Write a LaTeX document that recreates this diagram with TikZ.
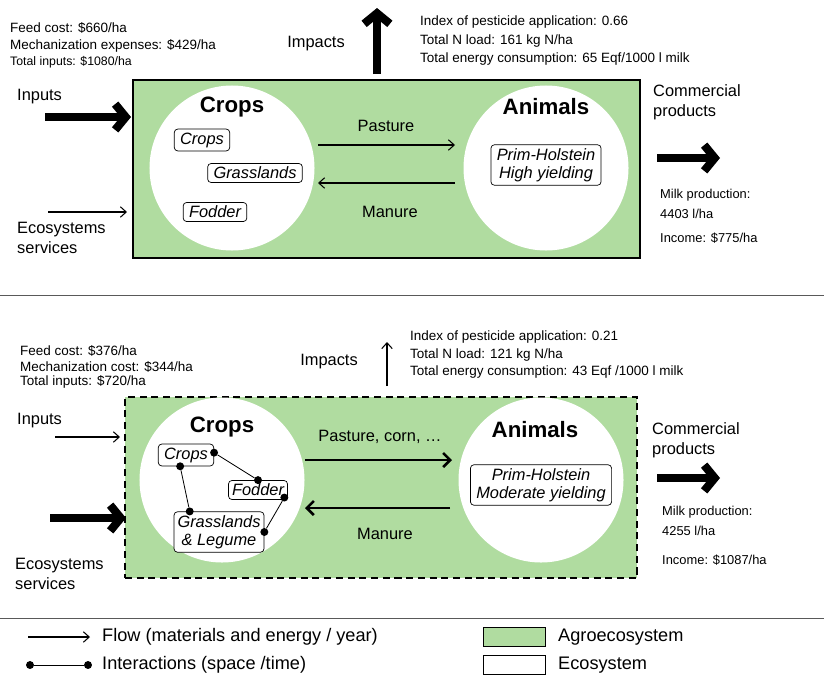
\documentclass[tikz,border=0pt]{standalone}
\usepackage{fontspec}
\setmainfont{Liberation Sans}
\usetikzlibrary{arrows.meta}
\definecolor{agro}{HTML}{B0DCA0}
\begin{document}
\begin{tikzpicture}[x=0.03cm,y=-0.03cm,
  txt/.style={font=\fontsize{14}{17}\selectfont,inner sep=0pt},
  sm/.style={font=\fontsize{11.5}{14}\selectfont,inner sep=0pt,align=left},
  circ/.style={circle,fill=white,minimum size=4.95cm,inner sep=0pt},
  title/.style={font=\fontsize{19}{21}\selectfont\bfseries,inner sep=0pt},
  item/.style={draw,rounded corners=3pt,font=\fontsize{14}{15.5}\selectfont\itshape,inner xsep=5pt,inner ysep=3pt,line width=0.6pt,fill=white,align=center},
  flow/.style={-{Straight Barb[length=5pt,width=9pt]},line width=0.9pt},
  thickflow/.style={-{Straight Barb[length=6pt,width=12pt]},line width=2.2pt},
  big/.style={-{Straight Barb[length=9pt,width=22pt]},line width=7pt},
  inter/.style={line width=0.7pt},
  dot/.style={circle,fill,inner sep=2.4pt}]
\useasboundingbox (0,0) rectangle (824,697);
% ---------- TOP ----------
\node[draw,line width=2.5pt,fill=agro,minimum width=507*0.03cm,minimum height=178*0.03cm,inner sep=0pt] (box1) at (386.5,169) {};
\node[circ] (c1) at (232,168) {};
\node[circ] (a1) at (546,168) {};
\node[title] (t1) at (232,107) {Crops};
\node[title] (t2) at (546,107) {Animals};
\node[item] (n1) at (202,140) {Crops};
\node[item] (n2) at (255,173) {Grasslands};
\node[item] (n3) at (215,212) {Fodder};
\node[item] (n4) at (546,165) {Prim-Holstein\\High yielding};
\coordinate (p1s) at (318,145); \coordinate (p1e) at (455,145);
\draw[flow] (p1s) -- (p1e);
\node[txt] (pl1) at (386,126) {Pasture};
\coordinate (m1s) at (455,183); \coordinate (m1e) at (318,183);
\draw[flow] (m1s) -- (m1e);
\node[txt] (ml1) at (390,212) {Manure};
\node[txt,anchor=west] (in1) at (17,97) {Inputs};
\coordinate (i1s) at (45,117); \coordinate (i1e) at (131,117);
\draw[big] (i1s) -- (i1e);
\node[txt,anchor=north west,align=left] (es1) at (17,222) {Ecosystems\\services};
\coordinate (e1s) at (48,212); \coordinate (e1e) at (127,212);
\draw[flow] (e1s) -- (e1e);
\coordinate (im1s) at (377,74); \coordinate (im1e) at (377,8);
\draw[big] (im1s) -- (im1e);
\node[txt] (imt1) at (316,44) {Impacts};
\node[sm,anchor=west] (ix1) at (420,22) {Index of pesticide application: 0.66};
\node[sm,anchor=west] (ix2) at (420,41) {Total N load: 161 kg N/ha};
\node[sm,anchor=west] (ix3) at (420,59) {Total energy consumption: 65 Eqf/1000 l milk};
\node[sm,anchor=west] (f1) at (10,28) {Feed cost: \$660/ha};
\node[sm,anchor=west] (f2) at (10,46) {Mechanization expenses: \$429/ha};
\node[sm,anchor=west,font=\fontsize{10.5}{12}\selectfont] (f3) at (10,62) {Total inputs: \$1080/ha};
\node[txt,anchor=north west,align=left] (cp1) at (653,84) {Commercial\\products};
\coordinate (o1s) at (657,158); \coordinate (o1e) at (720,158);
\draw[big] (o1s) -- (o1e);
\node[sm,anchor=north west,font=\fontsize{11}{17}\selectfont] (mp1) at (660,189) {Milk production:\\4403 l/ha};
\node[sm,anchor=west,font=\fontsize{11}{14}\selectfont] (inc1) at (660,238) {Income: \$775/ha};
% separator
\coordinate (s1a) at (0,295); \coordinate (s1b) at (824,295);
\draw[line width=0.6pt,gray!70!black] (s1a) -- (s1b);
% ---------- BOTTOM ----------
\node[draw,dashed,dash pattern=on 6pt off 4pt,line width=1pt,fill=agro,minimum width=512*0.03cm,minimum height=181*0.03cm,inner sep=0pt] (box2) at (381,487.5) {};
\node[circ] (c2) at (222,480) {};
\node[circ] (a2) at (541,480) {};
\node[title] (t3) at (222,427) {Crops};
\node[title] (t4) at (535,430) {Animals};
\node[item] (b1) at (186,455) {Crops};
\node[item,inner xsep=3pt] (b2) at (258,490) {Fodder};
\node[item,inner xsep=3pt] (b3) at (219,532) {Grasslands\\\& Legume};
\node[item] (b4) at (541,485) {Prim-Holstein\\Moderate yielding};
\node[dot] (d1) at ([yshift=2pt]b1.east) {}; \node[dot] (d2) at (b2.north) {};
\node[dot] (d3) at ([xshift=-5pt]b1.south) {}; \node[dot] (d4) at ([xshift=-25pt]b3.north) {};
\node[dot] (d5) at ([xshift=-3pt,yshift=2pt]b2.south east) {}; \node[dot] (d6) at (b3.east) {};
\draw[inter] (d1) -- (d2); \draw[inter] (d3) -- (d4); \draw[inter] (d5) -- (d6);
\coordinate (p2s) at (305,460); \coordinate (p2e) at (452,460);
\draw[thickflow] (p2s) -- (p2e);
\node[txt] (pl2) at (380,437) {Pasture, corn, …};
\coordinate (m2s) at (450,508); \coordinate (m2e) at (305,508);
\draw[thickflow] (m2s) -- (m2e);
\node[txt] (ml2) at (385,534) {Manure};
\node[txt,anchor=west] (in2) at (17,421) {Inputs};
\coordinate (i2s) at (55,437); \coordinate (i2e) at (120,437);
\draw[flow] (i2s) -- (i2e);
\coordinate (e2s) at (50,518); \coordinate (e2e) at (126,518);
\draw[big] (e2s) -- (e2e);
\node[txt,anchor=north west,align=left] (es2) at (15,558) {Ecosystems\\services};
\coordinate (im2s) at (387,386); \coordinate (im2e) at (387,342);
\draw[flow] (im2s) -- (im2e);
\node[txt] (imt2) at (329,362) {Impacts};
\node[sm,anchor=west] (jx1) at (410,337) {Index of pesticide application: 0.21};
\node[sm,anchor=west] (jx2) at (410,355) {Total N load: 121 kg N/ha};
\node[sm,anchor=west] (jx3) at (410,372) {Total energy consumption: 43 Eqf /1000 l milk};
\node[sm,anchor=west] (g1) at (20,351) {Feed cost: \$376/ha};
\node[sm,anchor=west] (g2) at (20,367) {Mechanization cost: \$344/ha};
\node[sm,anchor=west] (g3) at (20,382) {Total inputs: \$720/ha};
\node[txt,anchor=north west,align=left] (cp2) at (652,422) {Commercial\\products};
\coordinate (o2s) at (657,478); \coordinate (o2e) at (720,478);
\draw[big] (o2s) -- (o2e);
\node[sm,anchor=north west,font=\fontsize{11}{17}\selectfont] (mp2) at (662,506) {Milk production:\\4255 l/ha};
\node[sm,anchor=west,font=\fontsize{11}{14}\selectfont] (inc2) at (662,560) {Income: \$1087/ha};
% separator
\coordinate (s2a) at (0,618); \coordinate (s2b) at (824,618);
\draw[line width=0.6pt,gray!70!black] (s2a) -- (s2b);
% ---------- LEGEND ----------
\coordinate (l1s) at (28,637); \coordinate (l1e) at (90,637);
\draw[flow] (l1s) -- (l1e);
\node[anchor=west,font=\fontsize{15.5}{17}\selectfont,inner sep=0pt] (lt1) at (102,637) {Flow (materials and energy / year)};
\node[dot] (ld1) at (30,665) {}; \node[dot] (ld2) at (88,665) {};
\draw[inter] (ld1) -- (ld2);
\node[anchor=west,font=\fontsize{15.5}{17}\selectfont,inner sep=0pt] (lt2) at (102,665) {Interactions (space /time)};
\node[draw,fill=agro,minimum width=62*0.03cm,minimum height=19*0.03cm,inner sep=0pt,line width=0.5pt] (lg1) at (514,637) {};
\node[anchor=west,font=\fontsize{15.5}{17}\selectfont,inner sep=0pt] (lt3) at (558,637) {Agroecosystem};
\node[draw,fill=white,minimum width=62*0.03cm,minimum height=19*0.03cm,inner sep=0pt,line width=0.5pt] (lg2) at (514,665) {};
\node[anchor=west,font=\fontsize{15.5}{17}\selectfont,inner sep=0pt] (lt4) at (558,665) {Ecosystem};
\end{tikzpicture}
\end{document}
